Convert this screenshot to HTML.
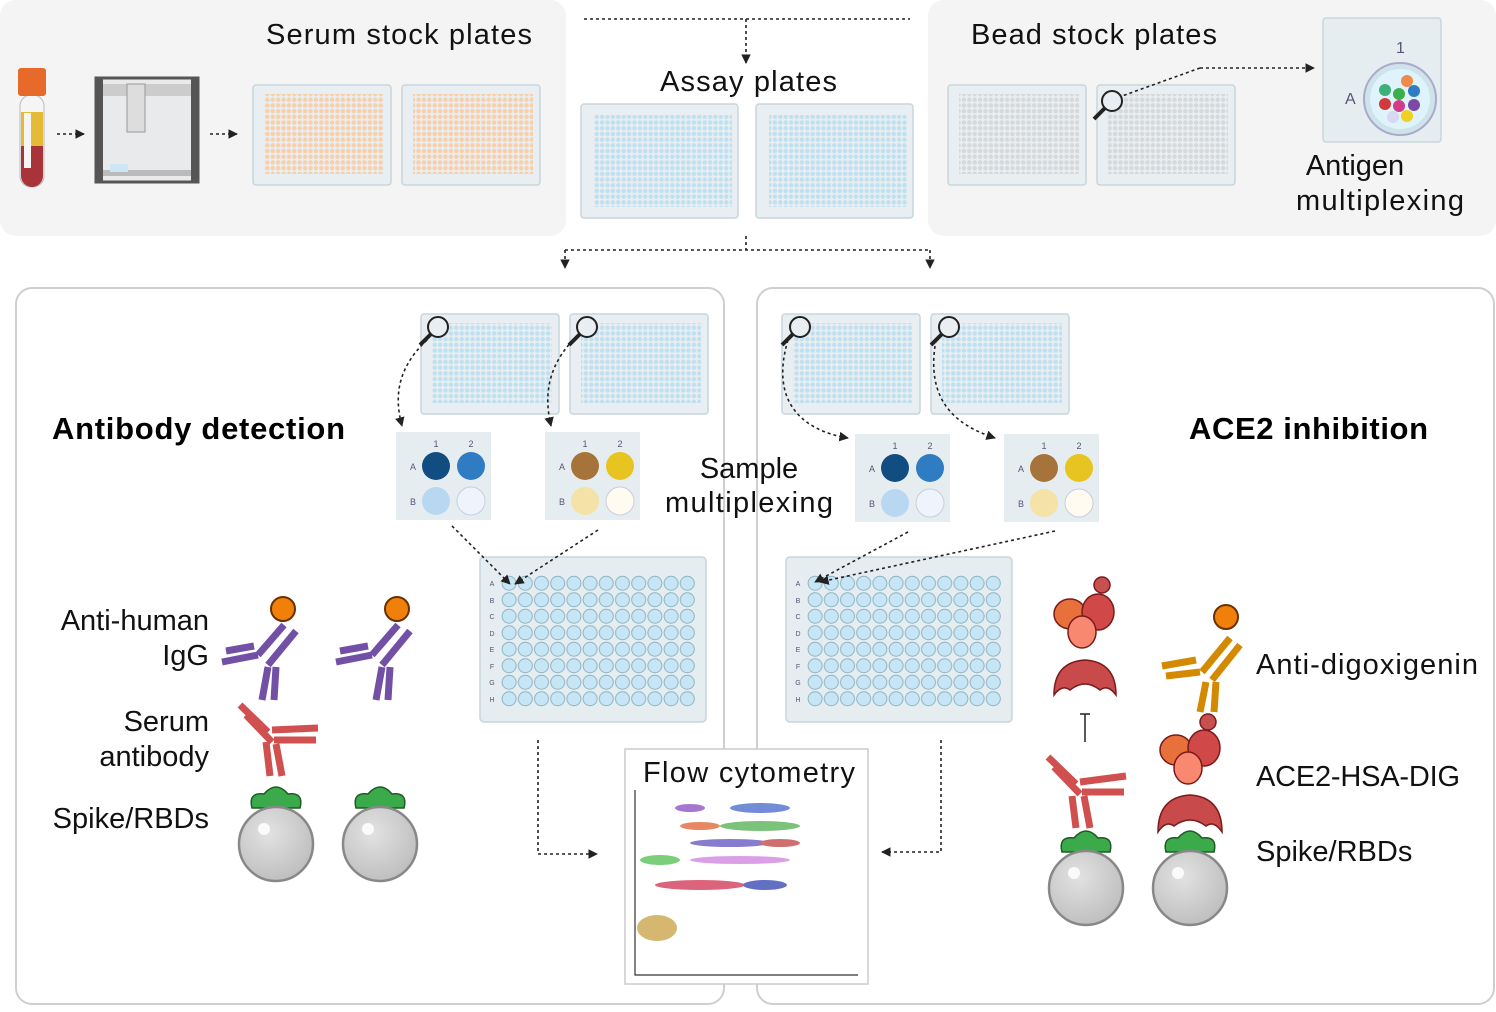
<!DOCTYPE html>
<html><head><meta charset="utf-8"><style>
body{margin:0;width:1496px;height:1007px;overflow:hidden;background:#fff;font-family:"Liberation Sans",sans-serif}
svg text{font-family:"Liberation Sans",sans-serif}
</style></head><body>
<svg width="1496" height="1007" viewBox="0 0 1496 1007" xmlns="http://www.w3.org/2000/svg">
<defs>
<pattern id="po" width="5.4" height="5.7" patternUnits="userSpaceOnUse"><circle cx="2.7" cy="2.85" r="2.2" fill="#f8cfa8"/></pattern>
<pattern id="pb" width="5.4" height="5.7" patternUnits="userSpaceOnUse"><circle cx="2.7" cy="2.85" r="2.2" fill="#bfe0f0"/></pattern>
<pattern id="pg" width="5.4" height="5.7" patternUnits="userSpaceOnUse"><circle cx="2.7" cy="2.85" r="2.2" fill="#d6d8da"/></pattern>
<pattern id="p96" x="501" y="575" width="16.2" height="16.5" patternUnits="userSpaceOnUse"><circle cx="8.1" cy="8.25" r="7" fill="#c6e6f5" stroke="#8fb3c4" stroke-width="1"/></pattern>
<pattern id="p96b" x="807" y="575" width="16.2" height="16.5" patternUnits="userSpaceOnUse"><circle cx="8.1" cy="8.25" r="7" fill="#c6e6f5" stroke="#8fb3c4" stroke-width="1"/></pattern>
<marker id="ar" viewBox="0 0 10 10" refX="9" refY="5" markerWidth="6" markerHeight="6" orient="auto"><path d="M0,0L10,5L0,10z" fill="#222"/></marker>
<radialGradient id="bead" cx="0.4" cy="0.35" r="0.7"><stop offset="0" stop-color="#e2e2e2"/><stop offset="1" stop-color="#bdbdbd"/></radialGradient>
</defs>

<rect x="0" y="0" width="566" height="236" rx="16" fill="#f4f4f4"/>
<rect x="928" y="0" width="568" height="236" rx="16" fill="#f4f4f4"/>
<rect x="16" y="288" width="708" height="716" rx="16" fill="#fff" stroke="#cfcfcf" stroke-width="2"/>
<rect x="757" y="288" width="737" height="716" rx="16" fill="#fff" stroke="#cfcfcf" stroke-width="2"/>

<!-- tube -->
<rect x="20" y="95" width="24" height="92" rx="11" fill="#f5f5f5" stroke="#bbb"/>
<rect x="21" y="112" width="22" height="34" fill="#e3bb35"/>
<path d="M21 146H43V176a11 11 0 0 1-22 0z" fill="#a8343a"/>
<rect x="24" y="113" width="7" height="55" fill="#f5f5f5"/>
<rect x="18" y="68" width="28" height="28" rx="3" fill="#e86a2a"/>
<!-- robot -->
<rect x="96" y="78" width="102" height="104" fill="#e8eaec" stroke="#555" stroke-width="3"/>
<rect x="96" y="78" width="7" height="104" fill="#555"/><rect x="191" y="78" width="7" height="104" fill="#555"/>
<rect x="103" y="84" width="88" height="12" fill="#ccc"/>
<rect x="127" y="84" width="18" height="48" fill="#ddd" stroke="#999"/>
<rect x="103" y="170" width="88" height="6" fill="#bbb"/>
<rect x="110" y="164" width="18" height="8" fill="#cde6f3"/>
<!-- plates -->
<g stroke="#c8d6dc" stroke-width="1.5">
<rect x="253" y="85" width="138" height="100" rx="3" fill="#e8eef1"/><rect x="264" y="94" width="120" height="80" fill="url(#po)" stroke="none"/>
<rect x="402" y="85" width="138" height="100" rx="3" fill="#e8eef1"/><rect x="413" y="94" width="120" height="80" fill="url(#po)" stroke="none"/>
<rect x="581" y="104" width="157" height="114" rx="3" fill="#e8eef1"/><rect x="594" y="115" width="138" height="92" fill="url(#pb)" stroke="none"/>
<rect x="756" y="104" width="157" height="114" rx="3" fill="#e8eef1"/><rect x="769" y="115" width="138" height="92" fill="url(#pb)" stroke="none"/>
<rect x="948" y="85" width="138" height="100" rx="3" fill="#e8eef1"/><rect x="959" y="94" width="120" height="80" fill="url(#pg)" stroke="none"/>
<rect x="1097" y="85" width="138" height="100" rx="3" fill="#e8eef1"/><rect x="1108" y="94" width="120" height="80" fill="url(#pg)" stroke="none"/>
<rect x="421" y="314" width="138" height="100" rx="3" fill="#e8eef1"/><rect x="432" y="323" width="120" height="80" fill="url(#pb)" stroke="none"/>
<rect x="570" y="314" width="138" height="100" rx="3" fill="#e8eef1"/><rect x="581" y="323" width="120" height="80" fill="url(#pb)" stroke="none"/>
<rect x="782" y="314" width="138" height="100" rx="3" fill="#e8eef1"/><rect x="793" y="323" width="120" height="80" fill="url(#pb)" stroke="none"/>
<rect x="931" y="314" width="138" height="100" rx="3" fill="#e8eef1"/><rect x="942" y="323" width="120" height="80" fill="url(#pb)" stroke="none"/>
<rect x="480" y="557" width="226" height="165" rx="4" fill="#e6edf0"/>
<rect x="786" y="557" width="226" height="165" rx="4" fill="#e6edf0"/>
<rect x="1323" y="18" width="118" height="124" rx="3" fill="#e6edf0"/>
</g>
<rect x="501" y="575" width="194.4" height="132" fill="url(#p96)"/>
<rect x="807" y="575" width="194.4" height="132" fill="url(#p96b)"/>
<g font-size="7" fill="#557" text-anchor="middle">
<text x="492" y="586">A</text><text x="492" y="603">B</text><text x="492" y="619">C</text><text x="492" y="636">D</text><text x="492" y="652">E</text><text x="492" y="669">F</text><text x="492" y="685">G</text><text x="492" y="702">H</text>
<text x="798" y="586">A</text><text x="798" y="603">B</text><text x="798" y="619">C</text><text x="798" y="636">D</text><text x="798" y="652">E</text><text x="798" y="669">F</text><text x="798" y="685">G</text><text x="798" y="702">H</text>
</g>
<circle cx="1400" cy="99" r="36" fill="#cfe3ea" stroke="#aac" stroke-width="2"/>
<circle cx="1400" cy="99" r="30" fill="#def3fb"/>
<g><circle cx="1385" cy="90" r="6" fill="#3cb07a"/><circle cx="1407" cy="81" r="6" fill="#f08a4a"/><circle cx="1414" cy="91" r="6" fill="#2f7cc2"/><circle cx="1399" cy="94" r="6" fill="#3cae4a"/><circle cx="1385" cy="104" r="6" fill="#d23a3a"/><circle cx="1399" cy="106" r="6" fill="#d23a8a"/><circle cx="1414" cy="105" r="6" fill="#7a4aa6"/><circle cx="1393" cy="117" r="6" fill="#d8d8f0"/><circle cx="1407" cy="116" r="6" fill="#f0d020"/></g>
<text x="1345" y="104" font-size="16" fill="#557">A</text><text x="1396" y="53" font-size="16" fill="#557">1</text>

<!-- well crops -->
<g>
<rect x="396" y="432" width="95" height="88" fill="#e6edf0"/>
<circle cx="436" cy="466" r="14" fill="#124d82"/><circle cx="471" cy="466" r="14" fill="#2f7cc2"/><circle cx="436" cy="501" r="14" fill="#b8d8f2"/><circle cx="471" cy="501" r="14" fill="#eef4fc" stroke="#ccd"/>
<rect x="545" y="432" width="95" height="88" fill="#e6edf0"/>
<circle cx="585" cy="466" r="14" fill="#a6743a"/><circle cx="620" cy="466" r="14" fill="#e8c420"/><circle cx="585" cy="501" r="14" fill="#f4e2a6"/><circle cx="620" cy="501" r="14" fill="#fffbf0" stroke="#ccd"/>
<rect x="855" y="434" width="95" height="88" fill="#e6edf0"/>
<circle cx="895" cy="468" r="14" fill="#124d82"/><circle cx="930" cy="468" r="14" fill="#2f7cc2"/><circle cx="895" cy="503" r="14" fill="#b8d8f2"/><circle cx="930" cy="503" r="14" fill="#eef4fc" stroke="#ccd"/>
<rect x="1004" y="434" width="95" height="88" fill="#e6edf0"/>
<circle cx="1044" cy="468" r="14" fill="#a6743a"/><circle cx="1079" cy="468" r="14" fill="#e8c420"/><circle cx="1044" cy="503" r="14" fill="#f4e2a6"/><circle cx="1079" cy="503" r="14" fill="#fffbf0" stroke="#ccd"/>
</g>
<g font-size="9" fill="#557" text-anchor="middle">
<text x="413" y="470">A</text><text x="413" y="505">B</text><text x="436" y="447">1</text><text x="471" y="447">2</text>
<text x="562" y="470">A</text><text x="562" y="505">B</text><text x="585" y="447">1</text><text x="620" y="447">2</text>
<text x="872" y="472">A</text><text x="872" y="507">B</text><text x="895" y="449">1</text><text x="930" y="449">2</text>
<text x="1021" y="472">A</text><text x="1021" y="507">B</text><text x="1044" y="449">1</text><text x="1079" y="449">2</text>
</g>

<!-- flow cytometry box -->
<rect x="625" y="749" width="243" height="235" fill="#fff" stroke="#ccc" stroke-width="1.5"/>
<path d="M635 790V975H858" stroke="#333" stroke-width="1.2" fill="none"/>
<g opacity="0.75">
<ellipse cx="690" cy="808" rx="15" ry="4" fill="#8a4ac0"/><ellipse cx="760" cy="808" rx="30" ry="5" fill="#4466cc"/>
<ellipse cx="700" cy="826" rx="20" ry="4" fill="#e06030"/><ellipse cx="760" cy="826" rx="40" ry="5" fill="#50b050"/>
<ellipse cx="730" cy="843" rx="40" ry="4" fill="#6050c0"/><ellipse cx="780" cy="843" rx="20" ry="4" fill="#c04040"/>
<ellipse cx="660" cy="860" rx="20" ry="5" fill="#50c050"/><ellipse cx="740" cy="860" rx="50" ry="4" fill="#d080e0"/>
<ellipse cx="700" cy="885" rx="45" ry="5" fill="#d03050"/><ellipse cx="765" cy="885" rx="22" ry="5" fill="#3040b0"/>
<ellipse cx="657" cy="928" rx="20" ry="13" fill="#c8a040"/>
</g>

<!-- antibodies -->
<g fill="none">
<g stroke="#7150a6" stroke-width="7"><path d="M296 631L268 665M284 625L258 655"/><path d="M222 662L258 655M226 651L254 646"/><path d="M268 667L262 700M276 667L274 700"/></g>
<circle cx="283" cy="609" r="12" fill="#f0800a" stroke="#6a3000" stroke-width="2"/>
<g stroke="#7150a6" stroke-width="7"><path d="M410 631L382 665M398 625L372 655"/><path d="M336 662L372 655M340 651L368 646"/><path d="M382 667L376 700M390 667L388 700"/></g>
<circle cx="397" cy="609" r="12" fill="#f0800a" stroke="#6a3000" stroke-width="2"/>
<g stroke="#d05050" stroke-width="7"><path d="M240 705L268 732M246 715L272 742"/><path d="M272 730L318 728M274 740L316 740"/><path d="M266 742L270 776M276 744L282 776"/></g>
<g stroke="#d05050" stroke-width="7"><path d="M1048 757L1076 784M1054 767L1080 794"/><path d="M1080 782L1126 776M1082 792L1124 792"/><path d="M1072 796L1076 828M1084 796L1090 828"/></g>
<g stroke="#d48a00" stroke-width="7"><path d="M1230 638L1202 672M1240 645L1212 680"/><path d="M1162 666L1196 660M1166 676L1200 672"/><path d="M1206 682L1200 712M1216 682L1214 712"/></g>
<circle cx="1226" cy="617" r="12" fill="#f0800a" stroke="#6a3000" stroke-width="2"/>
</g>
<path d="M1085 714V742M1080 714H1090" stroke="#222" stroke-width="1.5"/>
<g stroke="#7a1a1a" stroke-width="1.5">
<circle cx="1102" cy="585" r="8" fill="#c85050"/>
<ellipse cx="1070" cy="614" rx="16" ry="15" fill="#e8703a"/><ellipse cx="1098" cy="612" rx="16" ry="18" fill="#d04848"/><ellipse cx="1082" cy="632" rx="14" ry="16" fill="#f88870"/>
<path d="M1054 695Q1054 662 1085 660Q1116 662 1116 695Q1108 684 1100 690Q1085 678 1070 690Q1062 684 1054 695z" fill="#c94a4a"/>
<circle cx="1208" cy="722" r="8" fill="#c85050"/>
<ellipse cx="1176" cy="750" rx="16" ry="15" fill="#e8703a"/><ellipse cx="1204" cy="748" rx="16" ry="18" fill="#d04848"/><ellipse cx="1188" cy="768" rx="14" ry="16" fill="#f88870"/>
<path d="M1158 832Q1158 797 1190 795Q1222 797 1222 832Q1214 820 1206 826Q1190 814 1174 826Q1166 820 1158 832z" fill="#c94a4a"/>
</g>
<g stroke="#1e5a24" stroke-width="1.5">
<path d="M252 808q-4-16 12-14q12-14 24 0q16-2 12 14z" fill="#3aaa4a"/>
<path d="M356 808q-4-16 12-14q12-14 24 0q16-2 12 14z" fill="#3aaa4a"/>
<path d="M1062 852q-4-16 12-14q12-14 24 0q16-2 12 14z" fill="#3aaa4a"/>
<path d="M1166 852q-4-16 12-14q12-14 24 0q16-2 12 14z" fill="#3aaa4a"/>
</g>
<g stroke="#888" stroke-width="2.5" fill="url(#bead)">
<circle cx="276" cy="844" r="37"/><circle cx="380" cy="844" r="37"/>
<circle cx="1086" cy="888" r="37"/><circle cx="1190" cy="888" r="37"/>
</g>
<g fill="#fafafa"><circle cx="264" cy="829" r="6"/><circle cx="368" cy="829" r="6"/><circle cx="1074" cy="873" r="6"/><circle cx="1178" cy="873" r="6"/></g>

<!-- dotted connectors (on top) -->
<g stroke="#222" stroke-width="1.6" stroke-dasharray="3,3" fill="none">
<path d="M584 19H910"/><path d="M746 19V63" marker-end="url(#ar)"/>
<path d="M746 236V250"/><path d="M565 250H930"/>
<path d="M565 250V268" marker-end="url(#ar)"/><path d="M930 250V268" marker-end="url(#ar)"/>
<path d="M57 134H84" marker-end="url(#ar)"/><path d="M210 134H237" marker-end="url(#ar)"/>
<path d="M1200 68H1314" marker-end="url(#ar)"/><path d="M1200 68L1122 96"/>
<path d="M538 740V854H597" marker-end="url(#ar)"/>
<path d="M941 740V852H882" marker-end="url(#ar)"/>
<path d="M452 526L510 584" marker-end="url(#ar)"/><path d="M598 530L515 584" marker-end="url(#ar)"/>
<path d="M908 532L815 582" marker-end="url(#ar)"/><path d="M1055 531L820 582" marker-end="url(#ar)"/>
<path d="M427 340C395 370 395 400 402 426" marker-end="url(#ar)"/>
<path d="M573 340C545 370 545 400 551 426" marker-end="url(#ar)"/>
<path d="M788 340C770 400 800 430 848 438" marker-end="url(#ar)"/>
<path d="M936 340C925 400 955 425 995 438" marker-end="url(#ar)"/>
</g>
<!-- magnifiers -->
<g fill="none" stroke="#222" stroke-width="2">
<circle cx="1112" cy="101" r="10" fill="#e8eef1"/><path d="M1105 108L1094 119" stroke-width="4"/>
<circle cx="438" cy="327" r="10" fill="#e8eef1"/><path d="M431 334L420 345" stroke-width="4"/>
<circle cx="587" cy="327" r="10" fill="#e8eef1"/><path d="M580 334L569 345" stroke-width="4"/>
<circle cx="800" cy="327" r="10" fill="#e8eef1"/><path d="M793 334L782 345" stroke-width="4"/>
<circle cx="949" cy="327" r="10" fill="#e8eef1"/><path d="M942 334L931 345" stroke-width="4"/>
</g>

<!-- text on top -->
<g font-size="29" fill="#111">
<text x="266" y="44" textLength="266">Serum stock plates</text>
<text x="971" y="44" textLength="246">Bead stock plates</text>
<text x="660" y="91" textLength="177">Assay plates</text>
<text x="1355" y="175" text-anchor="middle">Antigen</text>
<text x="1380" y="210" text-anchor="middle" textLength="168">multiplexing</text>
<text x="749" y="478" text-anchor="middle">Sample</text>
<text x="749" y="512" text-anchor="middle" textLength="168">multiplexing</text>
<text x="643" y="782" textLength="212">Flow cytometry</text>
<text x="209" y="630" text-anchor="end">Anti-human</text>
<text x="209" y="665" text-anchor="end">IgG</text>
<text x="209" y="731" text-anchor="end">Serum</text>
<text x="209" y="766" text-anchor="end">antibody</text>
<text x="209" y="828" text-anchor="end">Spike/RBDs</text>
<text x="1256" y="674" textLength="222">Anti-digoxigenin</text>
<text x="1256" y="786" textLength="204">ACE2-HSA-DIG</text>
<text x="1256" y="861">Spike/RBDs</text>
</g>
<g font-size="31" font-weight="bold" fill="#000">
<text x="52" y="439" textLength="293">Antibody detection</text>
<text x="1189" y="439" textLength="239">ACE2 inhibition</text>
</g>
</svg>
</body></html>
